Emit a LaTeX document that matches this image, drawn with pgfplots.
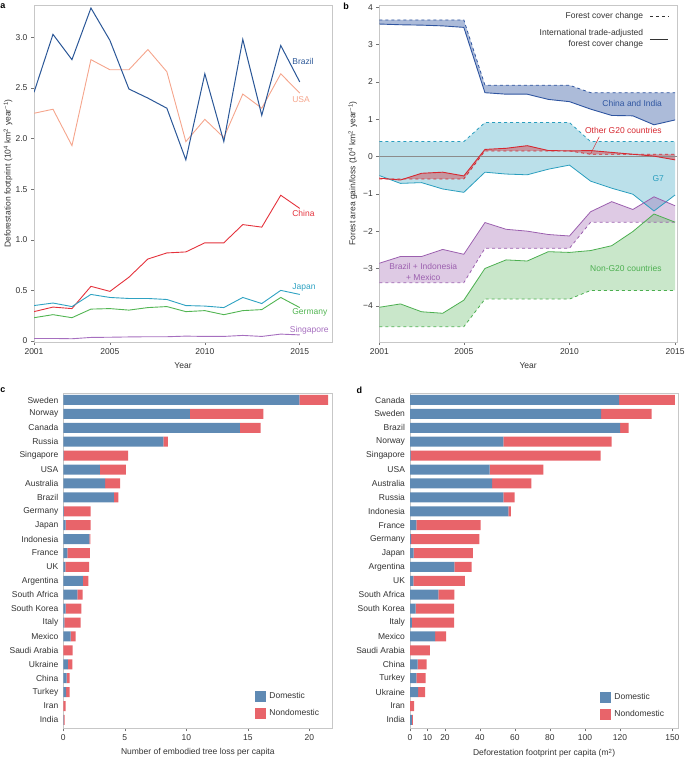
\documentclass[border=0pt]{standalone}
\usepackage{fontspec}
\setmainfont{Liberation Sans}
\usepackage{pgfplots}
\pgfplotsset{compat=1.18}
\usepgfplotslibrary{fillbetween}
\usepackage{pgfplotstable}

\definecolor{cBrazil}{HTML}{2B5797}
\definecolor{cUSA}{HTML}{F5A58C}
\definecolor{cChina}{HTML}{E4323C}
\definecolor{cJapan}{HTML}{2EA2C2}
\definecolor{cGermany}{HTML}{52B552}
\definecolor{cSing}{HTML}{A66FBF}
\definecolor{cCI}{HTML}{2F55A0}
\definecolor{cG7}{HTML}{2A9EBE}
\definecolor{cOG}{HTML}{D62830}
\definecolor{cBIM}{HTML}{9B5FAE}
\definecolor{cNG}{HTML}{4CAF50}
\definecolor{cDom}{HTML}{5F8AB4}
\definecolor{cNon}{HTML}{E8646A}
\definecolor{txt}{HTML}{333333}

\pgfplotstableread{
idx dom non
24 19.19 2.35
23 10.30 5.96
22 14.36 1.68
21 8.13 0.38
20 0.02 5.26
19 2.98 2.11
18 3.41 1.20
17 4.12 0.35
16 0.04 2.18
15 0.19 2.03
14 2.11 0.09
13 0.33 1.84
12 0.16 1.93
11 1.60 0.43
10 1.14 0.43
9 0.19 1.27
8 0.08 1.33
7 0.60 0.40
6 0.00 0.76
5 0.38 0.35
4 0.27 0.24
3 0.22 0.29
2 0.00 0.19
1 0.03 0.08
}\tabc

\pgfplotstableread{
idx dom non
24 119.5 32.0
23 109.2 29.0
22 120.1 4.9
21 53.4 61.9
20 0.4 108.6
19 45.5 30.7
18 46.9 22.5
17 53.4 6.4
16 56.2 1.4
15 3.6 36.8
14 0.6 39.0
13 2.1 33.9
12 25.3 10.0
11 1.9 29.4
10 16.2 9.1
9 3.2 22.0
8 1.1 24.1
7 14.3 6.3
6 0.0 11.4
5 4.4 5.1
4 3.6 5.4
3 4.6 4.0
2 0.0 2.3
1 1.1 0.6
}\tabd

\pgfplotsset{
  base/.style={
    scale only axis, anchor=south west,
    font=\fontsize{8.5}{10}\selectfont,
    /pgf/number format/assume math mode=true,
    axis line style={draw=black!22, line width=0.6pt},
    tick style={draw=black!55, line width=0.5pt},
    major tick length=3pt,
    tick align=outside,
    tick pos=left,
    ticklabel style={text=txt, font=\fontsize{8.5}{10}\selectfont},
    label style={text=txt, font=\fontsize{8.5}{10}\selectfont},
    enlargelimits=false,
  },
  sq/.style={legend image code/.code={\fill[##1] (0pt,-5.4pt) rectangle (10.7pt,5.4pt);}},
}

\begin{document}
\begin{tikzpicture}

% ---------------- panel a ----------------
\begin{axis}[base, at={(34pt,417pt)}, width=298pt, height=337pt,
  xmin=2001, xmax=2016.7, ymin=-0.01, ymax=3.32,
  xtick={2001,2005,2010,2015}, xticklabels={2001,2005,2010,2015},
  ytick={0,0.5,1,1.5,2,2.5,3}, yticklabels={0,0.5,1.0,1.5,2.0,2.5,3.0},
  xlabel={Year},
  ylabel={Deforestation footprint (10\textsuperscript{4} km\textsuperscript{2} year\textsuperscript{−1})},
  xlabel style={at={(axis description cs:0.5,-0.071)}, anchor=center},
  ylabel style={at={(axis description cs:-0.087,0.5)}, anchor=center},
]
\addplot[cUSA, line width=0.9pt] coordinates {(2001,2.25)(2002,2.29)(2003,1.93)(2004,2.78)(2005,2.68)(2006,2.68)(2007,2.88)(2008,2.66)(2009,1.97)(2010,2.19)(2011,2.01)(2012,2.44)(2013,2.30)(2014,2.64)(2015,2.45)};
\addplot[cBrazil, line width=1pt] coordinates {(2001,2.457)(2002,3.03)(2003,2.78)(2004,3.29)(2005,2.97)(2006,2.49)(2007,2.40)(2008,2.30)(2009,1.79)(2010,2.64)(2011,1.97)(2012,2.98)(2013,2.23)(2014,2.92)(2015,2.56)};
\addplot[cChina, line width=0.9pt] coordinates {(2001,0.29)(2002,0.335)(2003,0.32)(2004,0.54)(2005,0.49)(2006,0.63)(2007,0.81)(2008,0.87)(2009,0.88)(2010,0.97)(2011,0.97)(2012,1.15)(2013,1.125)(2014,1.44)(2015,1.31)};
\addplot[cJapan, line width=0.9pt] coordinates {(2001,0.35)(2002,0.375)(2003,0.34)(2004,0.46)(2005,0.43)(2006,0.42)(2007,0.42)(2008,0.41)(2009,0.35)(2010,0.345)(2011,0.33)(2012,0.43)(2013,0.37)(2014,0.50)(2015,0.46)};
\addplot[cGermany, line width=0.9pt] coordinates {(2001,0.23)(2002,0.26)(2003,0.23)(2004,0.315)(2005,0.32)(2006,0.305)(2007,0.33)(2008,0.34)(2009,0.29)(2010,0.30)(2011,0.26)(2012,0.30)(2013,0.31)(2014,0.43)(2015,0.33)};
\addplot[cSing, line width=0.9pt] coordinates {(2001,0.025)(2002,0.025)(2003,0.022)(2004,0.035)(2005,0.037)(2006,0.04)(2007,0.042)(2008,0.042)(2009,0.048)(2010,0.045)(2011,0.045)(2012,0.055)(2013,0.045)(2014,0.068)(2015,0.06)};
\node[anchor=west, text=cBrazil, inner sep=0pt] at (axis cs:2014.6,2.76) {Brazil};
\node[anchor=west, text=cUSA, inner sep=0pt] at (axis cs:2014.6,2.39) {USA};
\node[anchor=west, text=cChina, inner sep=0pt] at (axis cs:2014.6,1.257) {China};
\node[anchor=west, text=cJapan, inner sep=0pt] at (axis cs:2014.6,0.53) {Japan};
\node[anchor=west, text=cGermany, inner sep=0pt] at (axis cs:2014.6,0.28) {Germany};
\node[anchor=west, text=cSing, inner sep=0pt] at (axis cs:2014.47,0.11) {Singapore};
\end{axis}

% ---------------- panel b ----------------
\begin{axis}[base, at={(379.3pt,417pt)}, width=297.7pt, height=337pt,
  xmin=2001, xmax=2015.09, ymin=-4.97, ymax=4.06,
  xtick={2001,2005,2010,2015}, xticklabels={2001,2005,2010,2015},
  ytick={-4,-3,-2,-1,0,1,2,3,4}, yticklabels={−4,−3,−2,−1,0,1,2,3,4},
  xlabel={Year},
  ylabel={Forest area gain/loss (10\textsuperscript{4} km\textsuperscript{2} year\textsuperscript{−1})},
  xlabel style={at={(axis description cs:0.5,-0.071)}, anchor=center},
  ylabel style={at={(axis description cs:-0.089,0.5)}, anchor=center},
]
% series
\addplot[draw=none, name path=ciD] coordinates {(2001,3.66)(2002,3.66)(2003,3.66)(2004,3.66)(2005,3.66)(2006,1.91)(2007,1.91)(2008,1.91)(2009,1.91)(2010,1.91)(2011,1.71)(2012,1.71)(2013,1.71)(2014,1.71)(2015,1.71)};
\addplot[draw=none, name path=ciS] coordinates {(2001,3.55)(2002,3.53)(2003,3.52)(2004,3.50)(2005,3.46)(2006,1.71)(2007,1.67)(2008,1.67)(2009,1.53)(2010,1.47)(2011,1.27)(2012,1.10)(2013,1.09)(2014,0.85)(2015,0.98)};
\addplot[draw=none, name path=g7D] coordinates {(2001,0.40)(2002,0.40)(2003,0.40)(2004,0.40)(2005,0.40)(2006,0.91)(2007,0.91)(2008,0.91)(2009,0.91)(2010,0.91)(2011,0.40)(2012,0.40)(2013,0.40)(2014,0.40)(2015,0.40)};
\addplot[draw=none, name path=g7S] coordinates {(2001,-0.51)(2002,-0.72)(2003,-0.70)(2004,-0.87)(2005,-0.96)(2006,-0.42)(2007,-0.47)(2008,-0.49)(2009,-0.34)(2010,-0.23)(2011,-0.66)(2012,-0.85)(2013,-1.01)(2014,-1.46)(2015,-1.03)};
\addplot[draw=none, name path=ogD] coordinates {(2001,-0.60)(2002,-0.60)(2003,-0.60)(2004,-0.60)(2005,-0.60)(2006,0.15)(2007,0.15)(2008,0.15)(2009,0.15)(2010,0.15)(2011,0.06)(2012,0.06)(2013,0.06)(2014,0.06)(2015,0.06)};
\addplot[draw=none, name path=ogS] coordinates {(2001,-0.58)(2002,-0.63)(2003,-0.45)(2004,-0.42)(2005,-0.52)(2006,0.19)(2007,0.22)(2008,0.29)(2009,0.16)(2010,0.15)(2011,0.16)(2012,0.11)(2013,0.06)(2014,0.01)(2015,-0.09)};
\addplot[draw=none, name path=bD] coordinates {(2001,-3.38)(2002,-3.38)(2003,-3.38)(2004,-3.38)(2005,-3.38)(2006,-2.46)(2007,-2.46)(2008,-2.46)(2009,-2.46)(2010,-2.46)(2011,-1.76)(2012,-1.76)(2013,-1.76)(2014,-1.76)(2015,-1.76)};
\addplot[draw=none, name path=bS] coordinates {(2001,-2.86)(2002,-2.68)(2003,-2.68)(2004,-2.49)(2005,-2.62)(2006,-1.77)(2007,-1.95)(2008,-2.00)(2009,-2.09)(2010,-2.13)(2011,-1.48)(2012,-1.21)(2013,-1.42)(2014,-1.08)(2015,-1.32)};
\addplot[draw=none, name path=nD] coordinates {(2001,-4.56)(2002,-4.56)(2003,-4.56)(2004,-4.56)(2005,-4.56)(2006,-3.82)(2007,-3.82)(2008,-3.82)(2009,-3.82)(2010,-3.82)(2011,-3.59)(2012,-3.59)(2013,-3.59)(2014,-3.59)(2015,-3.59)};
\addplot[draw=none, name path=nS] coordinates {(2001,-4.04)(2002,-3.95)(2003,-4.16)(2004,-4.20)(2005,-3.85)(2006,-3.00)(2007,-2.77)(2008,-2.80)(2009,-2.55)(2010,-2.57)(2011,-2.52)(2012,-2.39)(2013,-2.01)(2014,-1.54)(2015,-1.76)};
% fills
\addplot[fill=cG7, fill opacity=0.32, draw=none] fill between[of=g7D and g7S];
\addplot[fill=cCI, fill opacity=0.4, draw=none] fill between[of=ciD and ciS];
\addplot[fill=cOG, fill opacity=0.4, draw=none] fill between[of=ogD and ogS];
\addplot[fill=cBIM, fill opacity=0.33, draw=none] fill between[of=bD and bS];
\addplot[fill=cNG, fill opacity=0.3, draw=none] fill between[of=nD and nS];
% zero line
\addplot[black!45, line width=0.6pt] coordinates {(2001,0)(2015.09,0)};
% lines
\addplot[cG7, line width=0.8pt, dashed] coordinates {(2001,0.40)(2002,0.40)(2003,0.40)(2004,0.40)(2005,0.40)(2006,0.91)(2007,0.91)(2008,0.91)(2009,0.91)(2010,0.91)(2011,0.40)(2012,0.40)(2013,0.40)(2014,0.40)(2015,0.40)};
\addplot[cG7, line width=0.8pt] coordinates {(2001,-0.51)(2002,-0.72)(2003,-0.70)(2004,-0.87)(2005,-0.96)(2006,-0.42)(2007,-0.47)(2008,-0.49)(2009,-0.34)(2010,-0.23)(2011,-0.66)(2012,-0.85)(2013,-1.01)(2014,-1.46)(2015,-1.03)};
\addplot[cCI, line width=0.8pt, dashed] coordinates {(2001,3.66)(2002,3.66)(2003,3.66)(2004,3.66)(2005,3.66)(2006,1.91)(2007,1.91)(2008,1.91)(2009,1.91)(2010,1.91)(2011,1.71)(2012,1.71)(2013,1.71)(2014,1.71)(2015,1.71)};
\addplot[cCI, line width=0.9pt] coordinates {(2001,3.55)(2002,3.53)(2003,3.52)(2004,3.50)(2005,3.46)(2006,1.71)(2007,1.67)(2008,1.67)(2009,1.53)(2010,1.47)(2011,1.27)(2012,1.10)(2013,1.09)(2014,0.85)(2015,0.98)};
\addplot[cOG, line width=0.8pt, dashed] coordinates {(2001,-0.60)(2002,-0.60)(2003,-0.60)(2004,-0.60)(2005,-0.60)(2006,0.15)(2007,0.15)(2008,0.15)(2009,0.15)(2010,0.15)(2011,0.06)(2012,0.06)(2013,0.06)(2014,0.06)(2015,0.06)};
\addplot[cOG, line width=0.9pt] coordinates {(2001,-0.58)(2002,-0.63)(2003,-0.45)(2004,-0.42)(2005,-0.52)(2006,0.19)(2007,0.22)(2008,0.29)(2009,0.16)(2010,0.15)(2011,0.16)(2012,0.11)(2013,0.06)(2014,0.01)(2015,-0.09)};
\addplot[cBIM, line width=0.8pt, dashed] coordinates {(2001,-3.38)(2002,-3.38)(2003,-3.38)(2004,-3.38)(2005,-3.38)(2006,-2.46)(2007,-2.46)(2008,-2.46)(2009,-2.46)(2010,-2.46)(2011,-1.76)(2012,-1.76)(2013,-1.76)(2014,-1.76)(2015,-1.76)};
\addplot[cBIM, line width=0.8pt] coordinates {(2001,-2.86)(2002,-2.68)(2003,-2.68)(2004,-2.49)(2005,-2.62)(2006,-1.77)(2007,-1.95)(2008,-2.00)(2009,-2.09)(2010,-2.13)(2011,-1.48)(2012,-1.21)(2013,-1.42)(2014,-1.08)(2015,-1.32)};
\addplot[cNG, line width=0.8pt, dashed] coordinates {(2001,-4.56)(2002,-4.56)(2003,-4.56)(2004,-4.56)(2005,-4.56)(2006,-3.82)(2007,-3.82)(2008,-3.82)(2009,-3.82)(2010,-3.82)(2011,-3.59)(2012,-3.59)(2013,-3.59)(2014,-3.59)(2015,-3.59)};
\addplot[cNG, line width=0.8pt] coordinates {(2001,-4.04)(2002,-3.95)(2003,-4.16)(2004,-4.20)(2005,-3.85)(2006,-3.00)(2007,-2.77)(2008,-2.80)(2009,-2.55)(2010,-2.57)(2011,-2.52)(2012,-2.39)(2013,-2.01)(2014,-1.54)(2015,-1.76)};
% labels
\node[text=cCI] at (axis cs:2012.97,1.41) {China and India};
\node[text=cOG] at (axis cs:2012.55,0.69) {Other G20 countries};
\draw[cOG, line width=0.5pt] (axis cs:2011.41,0.53) -- (axis cs:2011.0,0.07);
\node[text=cG7] at (axis cs:2014.2,-0.58) {G7};
\node[text=cBIM, align=center, inner sep=0pt] at (axis cs:2003.08,-3.085) {Brazil + Indonesia\\[1pt]+ Mexico};
\node[text=cNG] at (axis cs:2012.67,-3.0) {Non-G20 countries};
% legend
\node[anchor=east, text=txt, inner sep=0pt] at (axis description cs:0.887,0.967) {Forest cover change};
\draw[txt, line width=0.8pt, dashed] (axis description cs:0.909,0.967) -- (axis description cs:0.971,0.967);
\node[anchor=east, text=txt, inner sep=0pt, align=right] at (axis description cs:0.887,0.901) {International trade-adjusted\\[1pt]forest cover change};
\draw[txt, line width=0.9pt] (axis description cs:0.909,0.898) -- (axis description cs:0.971,0.898);
\end{axis}

% ---------------- panel c ----------------
\begin{axis}[base, xbar stacked, at={(63.3pt,30.7pt)}, width=269pt, height=335pt,
  xmin=0, xmax=21.87, ymin=0.4, ymax=24.48, bar width=10pt,
  ytick={1,...,24},
  yticklabels={India,Iran,Turkey,China,Ukraine,Saudi Arabia,Mexico,Italy,South Korea,South Africa,Argentina,UK,France,Indonesia,Japan,Germany,Brazil,Australia,USA,Singapore,Russia,Canada,Norway,Sweden},
  ytick style={draw=none}, yticklabel style={xshift=1.5pt},
  xtick={0,5,10,15,20}, xticklabels={0,5,10,15,20},
  xlabel={Number of embodied tree loss per capita},
  xlabel style={at={(axis description cs:0.5,-0.0716)}, anchor=center},
  legend style={at={(axis description cs:0.7126,0.1113)}, anchor=north west, draw=none, fill=none,
    inner sep=0pt, row sep=6pt, column sep=3.6pt, nodes={inner sep=0pt, text=txt}, font=\fontsize{8.5}{10}\selectfont},
  legend cell align=left,
]
\addplot[sq, fill=cDom, draw=none] table[x=dom, y=idx]{\tabc};
\addplot[sq, fill=cNon, draw=none] table[x=non, y=idx]{\tabc};
\legend{Domestic, Nondomestic}
\end{axis}

% ---------------- panel d ----------------
\begin{axis}[base, xbar stacked, at={(410pt,30.7pt)}, width=268.3pt, height=335pt,
  xmin=0, xmax=153.4, ymin=0.4, ymax=24.48, bar width=10pt,
  ytick={1,...,24},
  yticklabels={India,Iran,Ukraine,Turkey,China,Saudi Arabia,Mexico,Italy,South Korea,South Africa,UK,Argentina,Japan,Germany,France,Indonesia,Russia,Australia,USA,Singapore,Norway,Brazil,Sweden,Canada},
  ytick style={draw=none}, yticklabel style={xshift=1.5pt},
  xtick={0,10,20,40,60,80,100,120,150}, xticklabels={0,10,20,40,60,80,100,120,150},
  xlabel={Deforestation footprint per capita (m\textsuperscript{2})},
  xlabel style={at={(axis description cs:0.5,-0.0746)}, anchor=center},
  legend style={at={(axis description cs:0.708,0.109)}, anchor=north west, draw=none, fill=none,
    inner sep=0pt, row sep=6pt, column sep=3.6pt, nodes={inner sep=0pt, text=txt}, font=\fontsize{8.5}{10}\selectfont},
  legend cell align=left,
]
\addplot[sq, fill=cDom, draw=none] table[x=dom, y=idx]{\tabd};
\addplot[sq, fill=cNon, draw=none] table[x=non, y=idx]{\tabd};
\legend{Domestic, Nondomestic}
\end{axis}

% panel letters
\node[font=\bfseries\fontsize{9}{10}\selectfont] at (3pt,753pt) {a};
\node[font=\bfseries\fontsize{9}{10}\selectfont] at (346pt,753pt) {b};
\node[font=\bfseries\fontsize{9}{10}\selectfont] at (3pt,369pt) {c};
\node[font=\bfseries\fontsize{9}{10}\selectfont] at (359.3pt,369pt) {d};
\pgfresetboundingbox
\useasboundingbox (0,0) rectangle (685pt,759pt);
\end{tikzpicture}
\end{document}
